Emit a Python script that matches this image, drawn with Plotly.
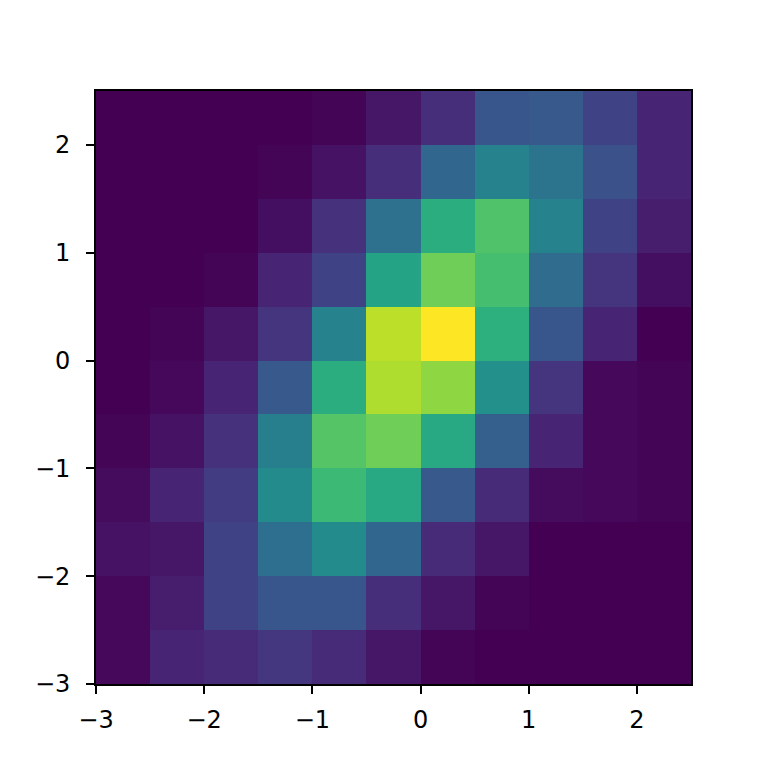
import plotly.graph_objects as go

# bin centres (bin width 0.5, edges -3 .. 2.5)
x_centers = [-2.75, -2.25, -1.75, -1.25, -0.75, -0.25, 0.25, 0.75, 1.25, 1.75, 2.25]
y_centers = [-2.75, -2.25, -1.75, -1.25, -0.75, -0.25, 0.25, 0.75, 1.25, 1.75, 2.25]

# counts per bin, rows from bottom (y=-2.75) to top (y=2.25)
counts = [
    [2, 10, 12, 16, 12, 6, 1, 0, 0, 0, 0],
    [2, 8, 20, 27, 27, 13, 6, 1, 0, 0, 0],
    [5, 6, 20, 36, 48, 33, 12, 6, 0, 0, 0],
    [3, 10, 18, 48, 68, 60, 28, 12, 3, 2, 1],
    [1, 5, 14, 43, 73, 78, 60, 30, 10, 2, 1],
    [0, 2, 10, 28, 62, 88, 83, 50, 15, 2, 1],
    [0, 1, 6, 15, 45, 90, 100, 63, 27, 10, 0],
    [0, 0, 1, 10, 20, 58, 78, 70, 35, 15, 4],
    [0, 0, 0, 4, 14, 37, 62, 72, 45, 20, 8],
    [0, 0, 0, 1, 5, 13, 33, 45, 38, 25, 10],
    [0, 0, 0, 0, 1, 6, 13, 27, 28, 20, 10],
]

tick_vals = [-3, -2, -1, 0, 1, 2]

fig = go.Figure(
    go.Heatmap(
        x=x_centers,
        y=y_centers,
        z=counts,
        colorscale="Viridis",
        zmin=0,
        zmax=100,
        showscale=False,
        hoverinfo="x+y+z",
    )
)

axis_common = dict(
    showline=True,
    linecolor="black",
    linewidth=1.6,
    mirror=True,
    ticks="outside",
    ticklen=8,
    tickwidth=1.6,
    tickcolor="black",
    showgrid=False,
    zeroline=False,
    tickvals=tick_vals,
    tickfont=dict(family="DejaVu Sans", size=24, color="black"),
)

fig.update_xaxes(range=[-3, 2.5], ticklabelstandoff=5, **axis_common)
fig.update_yaxes(range=[-3, 2.5], ticklabelstandoff=11, **axis_common)

fig.update_layout(
    width=760,
    height=760,
    margin=dict(l=88, r=77, t=83, b=84),
    plot_bgcolor="white",
    paper_bgcolor="white",
)

fig.write_html("out.html")
